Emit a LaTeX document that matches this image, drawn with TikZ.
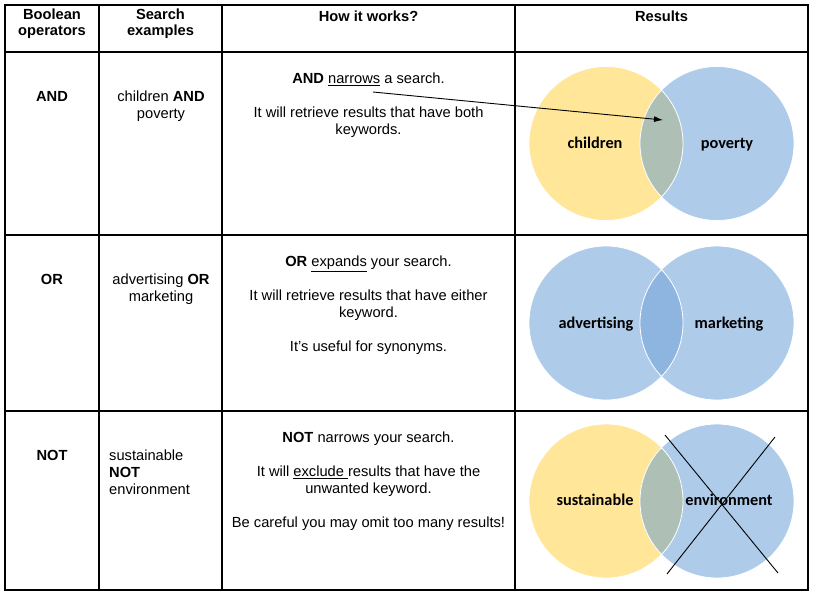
\documentclass[tikz,border=0pt]{standalone}
\usepackage{fontspec}
\setmainfont{Liberation Sans}
\newfontfamily\vennfont{Carlito}
\usetikzlibrary{arrows.meta}

\definecolor{vennyellow}{HTML}{FFE699}
\definecolor{vennblue}{HTML}{AECBEA}
\definecolor{venngreen}{HTML}{AEC0B6}
\definecolor{venndeep}{HTML}{8DB5E0}

\begin{document}
\begin{tikzpicture}[x=1pt,y=-1pt]

\tikzstyle{txt}=[inner sep=0pt, align=center, font=\fontsize{14.67}{17}\selectfont]
\tikzstyle{head}=[inner sep=0pt, align=center, font=\fontsize{14.67}{16}\selectfont\bfseries]
\tikzstyle{venn}=[circle, minimum size=154pt, inner sep=0pt]
\tikzstyle{vennedge}=[draw=white, line width=0.8pt]
\tikzstyle{vennlabel}=[inner sep=0pt, anchor=base, font=\fontsize{16.3}{18}\selectfont\vennfont\bfseries]
\tikzstyle{connect}=[-{Latex[length=9pt,width=6pt]}, line width=0.9pt]
\tikzstyle{cross}=[line width=0.9pt]
\tikzstyle{rule}=[line width=1.1pt]

\useasboundingbox[fill=white] (0,0) rectangle (815,598);

% table
\draw[rule] (5,5) rectangle (808,590);
\draw[rule] (5,52) -- (808,52);
\draw[rule] (5,235) -- (808,235);
\draw[rule] (5,411) -- (808,411);
\draw[rule] (99,5) -- (99,590);
\draw[rule] (222,5) -- (222,590);
\draw[rule] (515,5) -- (515,590);

% header
\node[head] (hop) at (52,24) {Boolean\\operators};
\node[head] (hex) at (160.5,24) {Search\\examples};
\node[head] (hhow) at (368.5,16) {How it works?};
\node[head] (hres) at (661.5,16) {Results};

% AND
\node[head] (andop) at (52,96) {AND};
\node[txt] (andex) at (161,106) {children \textbf{AND}\\poverty};
\node[txt] (andhow) at (368.5,105.5) {\textbf{AND} \underline{narrows} a search.\\[17pt]It will retrieve results that have both\\keywords.};

% OR
\node[head] (orop) at (52,279) {OR};
\node[txt] (orex) at (161,289) {advertising \textbf{OR}\\marketing};
\node[txt] (orhow) at (368.5,305.5) {\textbf{OR} \underline{expands} your search.\\[17pt]It will retrieve results that have either\\keyword.\\[17pt]It’s useful for synonyms.};

% NOT
\node[head] (notop) at (52,455) {NOT};
\node[txt, align=left, anchor=west] (notex) at (109,472) {sustainable\\\textbf{NOT}\\environment};
\node[txt] (nothow) at (368.5,481) {\textbf{NOT} narrows your search.\\[17pt]It will \underline{exclude\ }results that have the\\unwanted keyword.\\[17pt]Be careful you may omit too many results!};

% AND venn
\node[venn, fill=vennyellow] (children) at (606,143.5) {};
\node[venn, fill=vennblue] (poverty) at (717,143.5) {};
\begin{scope}
\clip (children.center) circle (77pt);
\fill[venngreen] (poverty.center) circle (77pt);
\end{scope}
\draw[vennedge] (children.center) circle (77pt) (poverty.center) circle (77pt);
\node[vennlabel] (childrentxt) at (595,148) {children};
\node[vennlabel] (povertytxt) at (727,148) {poverty};

% OR venn
\node[venn, fill=vennblue] (advertising) at (606,323) {};
\node[venn, fill=vennblue] (marketing) at (717,323) {};
\begin{scope}
\clip (advertising.center) circle (77pt);
\fill[venndeep] (marketing.center) circle (77pt);
\end{scope}
\draw[vennedge] (advertising.center) circle (77pt) (marketing.center) circle (77pt);
\node[vennlabel] (advertisingtxt) at (596,328) {advertising};
\node[vennlabel] (marketingtxt) at (729,328) {marketing};

% NOT venn
\node[venn, fill=vennyellow] (sustainable) at (606,501) {};
\node[venn, fill=vennblue] (environment) at (717,501) {};
\begin{scope}
\clip (sustainable.center) circle (77pt);
\fill[venngreen] (environment.center) circle (77pt);
\end{scope}
\draw[vennedge] (sustainable.center) circle (77pt) (environment.center) circle (77pt);
\node[vennlabel] (sustainabletxt) at (595,505) {sustainable};
\node[vennlabel] (environmenttxt) at (729,505) {environment};

% arrow and cross
\coordinate (narrowsend) at (373,92);
\coordinate (andlens) at (663,120);
\draw[connect] (narrowsend) -- (andlens);

\coordinate (crossa) at (665,435);
\coordinate (crossb) at (778,573);
\coordinate (crossc) at (775,437);
\coordinate (crossd) at (667,574);
\draw[cross] (crossa) -- (crossb);
\draw[cross] (crossc) -- (crossd);

\end{tikzpicture}
\end{document}
